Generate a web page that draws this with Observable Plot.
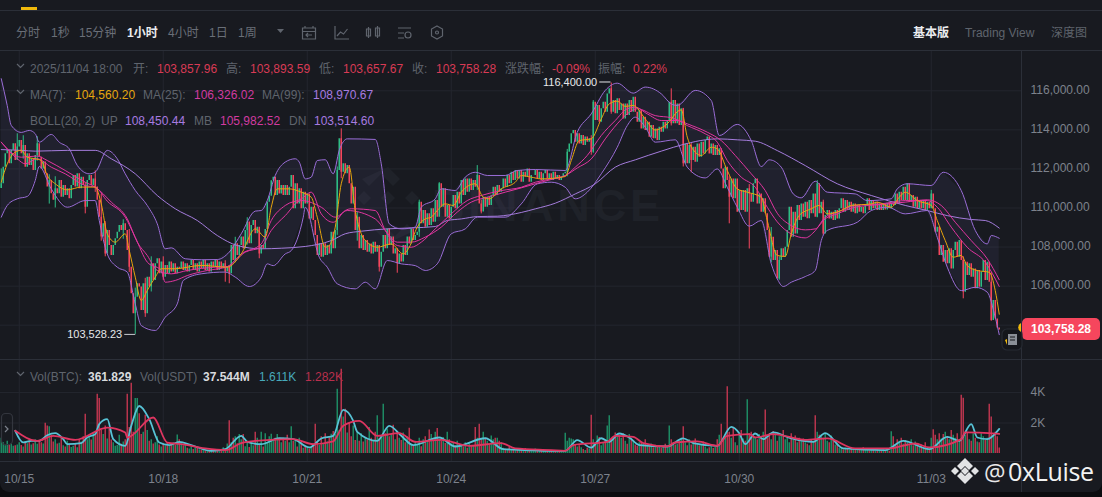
<!DOCTYPE html>
<html><head><meta charset="utf-8">
<script src="https://cdn.jsdelivr.net/npm/d3@7"></script>
<script src="https://cdn.jsdelivr.net/npm/@observablehq/plot@0.6"></script>
<style>
html,body{margin:0;padding:0;background:#0b0c0f;overflow:hidden}
#page{position:relative;width:1102px;height:497px;overflow:hidden;font-family:"Liberation Sans","Noto Sans CJK SC",sans-serif;font-size:12px}
#panel{position:absolute;left:0;top:0;width:1102px;height:492px;background:#181a20;border-radius:0 0 9px 9px}
.t{position:absolute;white-space:nowrap;line-height:16px}
.ln{position:absolute;background:#2b2f38}
.abs{position:absolute;left:0}
svg{display:block}
</style></head><body><div id="page"><div id="panel"></div></div>
<script>
// ---------- hourly closes, 500 candles, rows of ten ----------
const closes = [
111240,112090,112780,112950,112260,112950,113290,112430,113120,113460,
112780,113200,112090,112780,112180,112520,111920,112690,113290,112600,
112000,112350,111750,111070,111410,110730,110390,110980,110730,111410,
110550,111150,110640,110980,110470,111150,111660,111070,111750,110980,
111580,111150,110040,111410,111660,111150,111490,111070,110390,109530,
108510,109190,107650,108850,108080,107570,108080,108420,108760,109100,
108850,109190,108850,107820,106970,105610,104580,105430,106120,105950,
104750,106120,104580,106460,105950,107140,106290,107140,107400,106630,
107230,106460,107050,106630,107230,106720,107140,106630,106970,106890,
107230,106800,107140,106720,107060,107310,106800,107140,106720,107230,
106890,107310,106800,107140,106720,107230,106970,107310,106800,107230,
106890,107140,106720,106970,106630,108080,107310,108170,107570,108080,
108510,107910,108850,109280,108170,109100,109360,108680,109020,107650,
108080,107900,108900,110300,110600,111400,111580,110640,111410,110720,
111150,110640,111150,110640,111060,111660,109960,111240,110210,110980,
109960,110810,110210,110720,109440,110040,109360,108590,107570,108170,
107480,108170,107570,108080,107650,108760,107910,108850,111920,113540,
111835,112260,111750,112170,111240,110210,111060,108850,109530,107910,
108590,107820,108340,107740,108160,107650,108250,107740,108080,106970,
107740,108590,107910,108930,108080,108510,107650,107910,107140,107650,
107230,108080,107570,108510,108160,108930,108340,108590,108760,110300,
109190,109870,109020,109700,109100,109960,109270,110380,109530,111240,
110040,110980,109530,110130,109440,110040,110640,109960,110810,110210,
111410,110640,111490,110810,111490,110890,111410,111060,111660,110210,
109790,110550,110040,110550,110130,110640,111060,110640,111150,110810,
110980,111490,111060,111660,111240,111835,111410,111920,111490,111920,
111320,111835,111580,112000,111320,111660,111660,111920,111490,111830,
111410,111750,111920,111490,111750,111410,111830,111490,111660,111410,
111580,111750,111830,112860,113280,113800,113970,113370,113800,113280,
113710,113200,113630,113370,113540,112860,115420,114480,115250,114390,
115080,115420,114900,115840,116100,114900,115500,114820,115590,114990,
115330,114560,115330,114730,115500,114900,115670,114900,114390,114990,
114050,114650,113970,114390,113625,114220,113540,114050,113450,114140,
113880,114390,114050,114480,115420,114310,115500,114310,115330,114220,
115080,112260,113280,112260,113200,112430,113110,112340,113280,112600,
113370,112770,113450,113630,112770,113280,112690,113200,112690,113030,
112000,110980,112090,111410,110550,111490,110470,111490,109780,110890,
109870,110890,109780,110980,110720,110300,111240,111490,110210,110720,
109780,110470,109700,108850,107480,108500,107310,107820,106370,107310,
107910,107480,107990,108850,110040,108500,109785,108670,110130,109360,
110210,109530,110300,109450,110380,109700,110720,109530,111240,109700,
110300,108670,109610,109870,109440,109785,109360,109870,109440,109960,
110470,109785,110380,109870,110300,109785,110210,109700,110130,109785,
110040,109700,110130,110470,109870,110380,109960,110300,109870,110210,
109870,110210,109900,110240,109960,110210,110130,110720,110210,110810,
110380,111065,110380,111240,110300,110640,110040,110550,109960,110380,
109960,110380,109870,110300,109960,110720,109960,108760,109020,107570,
108080,107220,107820,107140,107910,106880,107820,108250,107480,108330,
107310,105690,107225,106540,107140,106460,106880,105860,106800,105940,
106710,107310,106290,107225,106200,104240,105260,104320,103860,103758];

const volumes = [
1000,700,500,800,550,620,480,500,560,700,
520,430,750,640,820,560,640,900,600,820,
700,620,1990,1800,1750,1200,760,900,620,680,
980,500,420,800,560,400,480,620,380,900,
760,1100,2580,900,1050,880,1350,1200,3890,3600,
1500,1250,1800,950,1600,880,700,480,520,1200,
600,750,900,3890,1700,4610,1400,3600,3600,2600,
1250,1400,2500,1500,800,900,620,700,1100,550,
420,600,510,700,480,620,700,550,1220,900,
640,500,620,350,300,420,260,320,380,250,
210,260,180,200,160,230,150,180,140,210,
170,380,240,620,2140,700,1000,1100,640,1250,
900,1240,450,800,400,700,500,1400,1000,520,
1400,420,1300,720,1100,1260,800,1000,1250,900,
700,1000,800,1200,700,1750,800,900,420,1000,
700,340,480,360,300,420,620,1920,800,540,
1100,650,1300,760,1040,1270,1450,1250,4220,1500,
5530,2400,2900,1350,2000,1100,1800,850,1400,800,
1300,750,1050,900,1700,1000,800,1400,2470,1000,
1100,3235,1300,1600,1100,1250,1850,900,1400,1000,
850,1350,700,1100,1650,600,460,800,520,1000,
450,900,1100,800,1540,1250,800,1400,1640,900,
800,1050,650,1400,900,620,700,500,800,400,
560,450,700,350,620,500,520,1700,1000,1920,
900,1400,1000,800,600,1150,900,1000,1000,800,
700,350,280,240,400,260,200,180,300,220,
260,200,320,180,250,170,230,300,160,240,
150,220,130,180,160,140,190,130,170,150,
200,160,1330,800,1000,950,900,550,420,500,
380,260,200,350,300,2510,900,600,1150,1050,
500,700,850,1800,2470,900,1000,1350,1100,1200,
1000,1300,800,600,1250,900,800,550,480,700,
750,620,900,500,460,620,380,540,400,500,
350,420,600,380,1810,900,700,560,600,800,
1000,1750,700,500,900,550,800,950,650,500,
550,750,420,300,380,450,320,400,900,1200,
1920,850,1100,4370,1400,1000,1700,700,500,1200,
1500,950,800,3520,1300,1400,1100,1000,900,1250,
1100,1400,2860,1000,1300,900,1450,1350,800,1100,
1200,1500,900,1000,700,1300,850,1150,700,1000,
800,950,700,600,500,900,800,2470,1400,1200,
1100,1000,1300,800,700,1150,900,550,600,350,
300,250,350,280,200,300,260,220,280,200,
240,380,200,260,180,240,200,170,260,190,
220,250,180,200,150,1420,1100,550,900,800,
1000,600,850,700,550,900,500,750,650,400,
550,300,700,350,280,1000,1550,1200,900,1300,
950,1250,1400,1100,900,1500,1200,1000,1300,850,
3825,3630,1200,1400,900,800,1300,1000,750,700,
1300,1100,850,1000,3235,2400,1200,1400,1100,362];

// ---------- long wicks: candle index, high, low ----------
const wicks = [[0,112000,111000],[8,113800,112700],[11,113700,112500],[18,113650,112400],[24,111700,110200],[27,111600,110000],
[42,111300,109700],[47,111900,110800],[50,110700,108300],[52,109300,107500],[61,109400,108400],[64,108900,106700],[67,105900,103528],
[72,106400,104400],[75,107500,105700],[81,107500,106300],[112,107300,106200],[114,107000,106120],[117,108500,107200],[123,109500,108100],
[129,108900,107400],[168,112100,108600],[170,114050,111500],[178,109800,108300],[189,108000,106720],[198,107700,106660],[209,110400,108500],
[219,111300,110000],[238,112170,110900],[240,110400,109700],[283,113000,111600],[295,113700,112700],[296,115500,112800],[305,116400,114800],
[335,116100,114200],[341,115100,112100],[345,113300,111800],[364,111600,109190],[374,111200,107900],[385,109000,107200],[389,107500,106300],
[408,111400,109500],[411,110400,108600],[465,110900,110000],[481,107500,105350],[495,106700,104200]];

// ---------- indicator lines: [candle index, value] ----------
const ma7 = [[0,111320],[3,112260],[7,112860],[10,112950],[13,112600],[17,112520],[20,112430],[23,111660],[27,111240],[33,110930],[40,111070],[47,111070],[50,110210],[53,108680],[57,108250],[62,108680],[64,107830],[67,106460],[70,105260],[73,105780],[77,106460],[80,106890],[87,106890],[100,107060],[113,106970],[120,107650],[127,108930],[132,108510],[135,110040],[138,110980],[144,110980],[150,110810],[155,110550],[158,109530],[162,107990],[164,108080],[167,109020],[170,111240],[174,112090],[177,109870],[180,108680],[183,108250],[188,107990],[195,108160],[201,107650],[204,107990],[208,109020],[212,109440],[215,109530],[218,109870],[222,110210],[226,110130],[230,110810],[237,111240],[241,110550],[244,110470],[250,110980],[257,111320],[260,111660],[265,111580],[270,111490],[282,111610],[285,112430],[289,113450],[295,113540],[300,114560],[304,115330],[308,115470],[312,115200],[316,115250],[322,114560],[327,113990],[332,114220],[340,115025],[343,113630],[347,112860],[350,112690],[355,113110],[358,113030],[363,111920],[368,110980],[373,110810],[380,110550],[383,109360],[388,107570],[392,107520],[395,108670],[399,109620],[405,109960],[409,110130],[413,109700],[420,109870],[425,110130],[435,110210],[438,110300],[445,110040],[449,110550],[452,110810],[458,110380],[465,110130],[468,109360],[472,108330],[476,107480],[480,107570],[483,107050],[488,106800],[494,106710],[497,105770],[499,104560]];
const ma25 = [[0,113370],[10,112600],[18,112660],[23,112430],[32,111920],[42,111320],[47,111070],[55,110300],[63,109450],[68,108250],[73,107570],[78,106800],[85,106630],[93,106800],[107,106970],[113,107000],[122,107740],[130,108000],[135,108850],[142,109610],[150,110380],[160,110040],[167,109530],[173,109870],[187,109440],[192,108850],[198,108250],[205,108250],[212,108510],[220,109020],[228,109790],[235,110300],[243,110550],[252,110810],[260,111030],[267,111240],[275,111460],[282,111660],[288,112050],[295,112510],[302,113540],[308,114310],[313,114820],[318,115080],[327,114730],[335,114620],[343,114310],[353,113880],[360,113450],[367,112690],[375,111750],[382,110890],[388,109730],[395,109100],[402,108880],[407,108930],[412,109450],[418,109700],[427,110040],[440,110180],[452,110300],[463,110420],[470,110130],[477,109270],[485,108330],[493,107400],[499,106326]];
const ma99 = [[0,112990],[10,112950],[17,112910],[33,112950],[47,112950],[55,112520],[67,111750],[78,110640],[87,109960],[98,109360],[108,108590],[118,108080],[130,107910],[140,107940],[152,108030],[158,108130],[165,108330],[172,108680],[180,108810],[193,108930],[205,108980],[217,109050],[223,109360],[230,109440],[238,109560],[248,109580],[260,109770],[267,109955],[277,110245],[287,110720],[297,111240],[307,112090],[317,112465],[330,112910],[342,113280],[352,113490],[358,113540],[368,113490],[377,113420],[388,112940],[402,112170],[418,111240],[435,110640],[452,110130],[463,109870],[473,109610],[485,109410],[492,109360],[499,108970]];
const bollMid = [[0,113370],[8,112520],[12,112260],[18,112520],[25,112090],[32,111750],[42,111150],[47,111070],[53,110350],[62,109530],[67,108500],[73,107230],[80,106800],[82,106200],[87,106290],[93,106540],[103,106800],[113,107000],[120,107650],[130,108160],[135,109360],[142,110130],[150,110465],[155,110810],[160,109700],[166,109270],[172,109870],[175,109960],[187,109870],[192,108850],[198,108080],[205,107990],[210,108250],[217,108930],[225,109700],[233,110380],[240,110640],[250,110890],[260,111060],[267,111320],[275,111490],[282,111660],[287,112090],[293,112690],[300,113710],[307,114480],[313,115080],[317,115160],[323,114820],[330,114480],[338,114480],[343,114220],[352,113800],[358,113370],[363,112430],[370,111580],[377,111065],[383,110040],[388,109290],[395,108670],[402,108470],[407,108840],[412,109530],[418,109785],[427,110130],[440,110210],[452,110380],[463,110380],[468,110040],[475,109020],[483,107990],[492,107225],[499,105982]];
const bollUp = [[0,116620],[3,115240],[5,114230],[10,113870],[14,113970],[17,113800],[19,113370],[25,113765],[29,113370],[34,113030],[38,112180],[44,111750],[47,111840],[53,112950],[58,112520],[62,111750],[67,110900],[73,110130],[78,109190],[82,107910],[85,107960],[92,107400],[100,107350],[108,107360],[114,107740],[120,108680],[127,109840],[130,109870],[133,110380],[137,111665],[142,112350],[147,112520],[149,112350],[152,111490],[155,111580],[158,112430],[162,112470],[166,111750],[169,112950],[173,113540],[187,113510],[190,112260],[194,109190],[200,108930],[207,109020],[210,110040],[217,110470],[220,110980],[227,110895],[232,111580],[237,111830],[243,111665],[252,111665],[258,111920],[267,111970],[282,111920],[288,113880],[295,114820],[302,116020],[308,116390],[316,115880],[322,116190],[330,115845],[335,115330],[338,115250],[347,116020],[355,115500],[359,113710],[368,114280],[375,113450],[380,112120],[384,112465],[390,112090],[396,110720],[400,110520],[407,111370],[413,110810],[427,110720],[433,110380],[445,110470],[448,110980],[453,111240],[465,111150],[471,111830],[480,110890],[487,108850],[493,108160],[495,108590],[499,108450]];
const bollDn = [[0,109530],[3,110130],[8,110470],[13,110590],[17,111410],[19,112130],[25,110980],[33,110040],[42,110380],[47,110380],[49,109360],[53,107650],[58,106970],[63,106720],[67,105090],[70,103980],[77,103730],[82,104410],[88,105090],[91,106290],[100,106630],[112,106720],[117,106460],[124,105980],[130,106460],[133,107140],[136,107050],[142,107650],[145,107820],[151,109530],[152,110040],[159,107480],[163,106970],[168,106120],[177,105860],[182,106200],[187,105860],[193,107310],[200,107140],[207,107050],[212,106800],[218,107140],[225,108680],[232,108930],[238,109530],[252,109530],[260,110210],[268,111235],[275,111320],[282,111060],[287,110470],[293,110810],[300,111750],[308,113110],[313,114220],[317,114650],[322,114140],[327,113370],[337,113490],[343,112090],[352,111540],[358,112000],[363,111060],[368,110040],[374,109070],[380,109360],[385,107140],[388,106370],[391,105980],[395,106200],[402,106490],[407,106800],[410,108330],[413,108850],[428,109270],[435,109870],[443,110040],[452,109700],[463,109870],[468,108500],[473,106970],[480,105770],[487,105940],[493,105690],[497,104410],[499,103515]];
const volFast = [[7,1490],[11,725],[15,830],[19,830],[23,1200],[27,1330],[31,940],[33,610],[40,680],[43,1050],[47,1270],[49,1930],[53,2250],[56,940],[62,500],[65,1810],[69,3115],[74,2250],[79,720],[84,550],[89,765],[95,550],[105,175],[112,285],[120,1160],[123,765],[130,610],[139,1000],[146,940],[154,395],[160,985],[166,1160],[171,2860],[176,2140],[178,1420],[188,830],[194,1810],[200,1160],[206,550],[219,1050],[227,460],[242,1000],[251,285],[262,230],[275,175],[282,175],[288,875],[295,390],[300,1000],[304,765],[309,1310],[314,1050],[319,550],[333,460],[341,985],[346,680],[358,500],[365,1750],[369,1330],[372,610],[377,1310],[381,940],[386,1380],[395,985],[406,765],[412,1330],[421,330],[442,220],[451,830],[464,285],[473,1090],[479,830],[485,1925],[488,1050],[493,940],[499,1611]];
const volSlow = [[7,1490],[18,830],[26,1160],[37,895],[53,1700],[62,1380],[63,1050],[76,2360],[83,720],[90,610],[102,330],[112,220],[120,680],[127,830],[146,940],[156,610],[166,790],[171,1820],[179,2140],[188,1160],[199,1330],[207,765],[220,895],[234,500],[250,680],[257,330],[275,220],[282,175],[286,550],[303,765],[307,1160],[316,1090],[321,680],[333,460],[337,720],[348,790],[358,500],[363,1160],[374,1270],[377,1050],[386,1270],[402,895],[413,985],[427,330],[444,330],[457,655],[464,395],[480,940],[482,1380],[499,1282]];

// ---------- ticks ----------
const priceGrid = [116000,114000,112000,110000,108000,106000,104000];
const priceTicks = [116000,114000,112000,110000,108000,106000];
const volTicks = [2000,4000];
const dateTicks = ["2025-10-15","2025-10-18","2025-10-21","2025-10-24","2025-10-27","2025-10-30","2025-11-03"].map(d=>new Date(d+"T00:00:00Z"));

// ---------- time mapping ----------
const START = Date.UTC(2025,9,14,15), HOUR = 3600000;
const T = i => new Date(START + i*HOUR);
const xDomain = [T(-0.375), T(510.125)];
const candles = closes.map((c,i)=>({t:T(i), open:i?closes[i-1]:111000, close:c, vol:volumes[i]}));
candles[499].open = 103857.96;
const up = candles.filter(d=>d.close>=d.open), down = candles.filter(d=>d.close<d.open);
const GREEN="#2ebd85", RED="#f6465d", GRID="#23262e", AXIS="#7d828c";
const GV="#1d8a63", RV="#b8344d";

// band fill between the two Bollinger lines
const piece = a => d3.scaleLinear(a.map(d=>d[0]), a.map(d=>d[1]));
const upS = piece(bollUp), dnS = piece(bollDn);
const bandFill = d3.range(0,500).map(i=>({t:T(i), a:upS(i), b:dnS(i)}));

const lineOf = (a,stroke,w=1) => Plot.line(a,{x:d=>T(d[0]),y:d=>d[1],stroke,strokeWidth:w,curve:"monotone-x"});

// ---------- price pane ----------
const price = Plot.plot({
  width:1102,height:308,marginTop:0,marginBottom:0,marginLeft:0,marginRight:81,
  style:{background:"transparent",fontFamily:'"Liberation Sans",sans-serif',fontSize:"12px"},
  x:{type:"utc",domain:xDomain,axis:null},
  y:{domain:[102243,118012],range:[308,0],label:null},
  marks:[
    Plot.ruleY(priceGrid,{stroke:GRID}),
    Plot.ruleX(dateTicks,{stroke:GRID}),
    Plot.axisY(priceTicks,{anchor:"right",tickSize:0,tickPadding:9,dy:-1,label:null,tickFormat:d3.format(",.2f"),fill:AXIS,fontSize:12}),
    Plot.areaY(bandFill,{x:"t",y1:"b",y2:"a",fill:"#7a70c0",fillOpacity:0.09,curve:"linear"}),
    Plot.ruleX(wicks.filter(w=>closes[w[0]]>=(w[0]?closes[w[0]-1]:0)),{x:d=>T(d[0]),y1:d=>d[1],y2:d=>d[2],stroke:GREEN,strokeWidth:1}),
    Plot.ruleX(wicks.filter(w=>closes[w[0]]<(w[0]?closes[w[0]-1]:0)),{x:d=>T(d[0]),y1:d=>d[1],y2:d=>d[2],stroke:RED,strokeWidth:1}),
    Plot.ruleX(up,{x:"t",y1:"open",y2:"close",stroke:GREEN,strokeWidth:1.5}),
    Plot.ruleX(down,{x:"t",y1:"open",y2:"close",stroke:RED,strokeWidth:1.5}),
    lineOf(ma99,"#a47cdc",1),
    lineOf(bollUp,"#9a6dd7",1),
    lineOf(bollDn,"#9a6dd7",1),
    lineOf(ma25,"#e0359f",1),
    lineOf(bollMid,"#e0359f",1),
    lineOf(ma7,"#e8a50c",1),
    Plot.link([{a:T(299),b:T(304.6),y:116400}],{x1:"a",x2:"b",y1:"y",y2:"y",dy:-1,stroke:"#e6e8ea",strokeWidth:1}),
    Plot.text([{x:T(299),y:116400,s:"116,400.00"}],{x:"x",y:"y",text:"s",textAnchor:"end",dx:-2,dy:-1,fill:"#e6e8ea",fontSize:11}),
    Plot.link([{a:T(61.5),b:T(67),y:103528.23}],{x1:"a",x2:"b",y1:"y",y2:"y",stroke:"#c9ccd1",strokeWidth:1}),
    Plot.text([{x:T(61.5),y:103528.23,s:"103,528.23"}],{x:"x",y:"y",text:"s",textAnchor:"end",dx:-2,fill:"#e6e8ea",fontSize:11})
  ]
});

// ---------- volume pane ----------
const volume = Plot.plot({
  width:1102,height:138,marginTop:0,marginBottom:36,marginLeft:0,marginRight:81,
  style:{background:"transparent",fontFamily:'"Liberation Sans",sans-serif',fontSize:"12px"},
  x:{type:"utc",domain:xDomain},
  y:{domain:[-525,6164],label:null},
  marks:[
    Plot.ruleY(volTicks,{stroke:GRID}),
    Plot.ruleX(dateTicks,{stroke:GRID}),
    Plot.axisY(volTicks,{anchor:"right",tickSize:0,tickPadding:9,label:null,tickFormat:d=>d/1000+"K",fill:AXIS,fontSize:12}),
    Plot.axisX(dateTicks,{anchor:"bottom",tickSize:0,tickPadding:13,label:null,tickFormat:d3.utcFormat("%m/%d"),fill:AXIS,fontSize:12}),
    Plot.ruleX(up,{x:"t",y1:0,y2:"vol",stroke:GV,strokeWidth:1.5}),
    Plot.ruleX(down,{x:"t",y1:0,y2:"vol",stroke:RV,strokeWidth:1.5}),
    lineOf(volFast,"#57c3d6",1.8),
    lineOf(volSlow,"#df3560",1.8)
  ]
});

// ---------- page furniture ----------
const page = document.getElementById("page");
const wm = document.createElement("div");
wm.className="abs"; wm.style.cssText="top:0;left:0";
wm.innerHTML='<svg width="1102" height="497" style="position:absolute;left:0;top:0"><g fill="#1f2229"><path d="M388 167l12 12-7 7-12-12-12 12-7-7z"/><path d="M388 243l-12-12 7-7 12 12 12-12 7 7z"/><path d="M357 198l7-7 7 7-7 7zM405 198l7-7 7 7-7 7zM381 198l7-7 7 7-7 7z"/></g><text x="432" y="221" font-family="Liberation Sans" font-weight="700" font-size="45" fill="#1f2229" textLength="228">BINANCE</text></svg>';
page.appendChild(wm);
const p1 = document.createElement("div"); p1.className="abs"; p1.style.top="51px"; p1.appendChild(price); page.appendChild(p1);
const p2 = document.createElement("div"); p2.className="abs"; p2.style.top="359px"; p2.appendChild(volume); page.appendChild(p2);

const rect=(x,y,w,h,c)=>{const d=document.createElement("div");d.className="ln";d.style.cssText=`left:${x}px;top:${y}px;width:${w}px;height:${h}px;${c?"background:"+c:""}`;page.appendChild(d);return d;};
rect(0,10,1102,1); rect(0,50,1102,1); rect(0,359,1102,1); rect(0,461,1021,1); rect(1021,51,1,441);
rect(21,7,16,3,"#f0b90b");

const put=(s,x,y,c,o={})=>{const d=document.createElement("div");d.className="t";d.textContent=s;
  d.style.cssText=`left:${x}px;top:${y-7}px;color:${c};font-size:${o.size||12}px;${o.bold?"font-weight:700;":""}${o.extra||""}`;page.appendChild(d);};
const G="#5f646d", R="#d93a55", P="#a77be0", K="#d13ba0";
[["分时",16],["1秒",51],["15分钟",79],["4小时",168],["1日",209],["1周",238]].forEach(a=>put(a[0],a[1],32,"#6a6f78"));
put("1小时",127,32,"#eaecef",{bold:true});
put("基本版",913,32,"#eaecef",{bold:true});
put("Trading View",965,32,"#5f646d");
put("深度图",1051,32,"#5f646d");
[["2025/11/04 18:00",30,G],["开:",133,G],["103,857.96",157,R],["高:",226,G],["103,893.59",250,R],["低:",319,G],["103,657.67",343,R],["收:",412,G],["103,758.28",436,R],["涨跌幅:",505,G],["-0.09%",552,R],["振幅:",598,G],["0.22%",633,R]].forEach(a=>put(a[0],a[1],68,a[2]));
[["MA(7):",30,G],["104,560.20",75,"#e5a70f"],["MA(25):",143,G],["106,326.02",194,K],["MA(99):",262,G],["108,970.67",313,P]].forEach(a=>put(a[0],a[1],94,a[2]));
[["BOLL(20, 2)",30,G],["UP",101,G],["108,450.44",125,P],["MB",194,G],["105,982.52",220,K],["DN",289,G],["103,514.60",314,P]].forEach(a=>put(a[0],a[1],120,a[2]));
put("Vol(BTC):",30,376,G); put("361.829",88,376,"#d9dbde",{bold:true});
put("Vol(USDT)",140,376,G); put("37.544M",203,376,"#d9dbde",{bold:true});
put("1.611K",259,376,"#47a9bb"); put("1.282K",305,376,"#b92f4c");

// last price tag
const tag=document.createElement("div");tag.className="t";tag.textContent="103,758.28";
tag.style.cssText="left:1022px;top:318px;width:78px;height:22px;line-height:22px;text-align:center;background:#f6465d;border-radius:5px;color:#fff;font-size:12px;font-weight:700;";page.appendChild(tag);

// icons and decorations
const ic=document.createElement("div");ic.className="abs";ic.style.cssText="top:0;left:0;pointer-events:none";
ic.innerHTML=`<svg width="1102" height="497" style="position:absolute;left:0;top:0">
<g fill="none" stroke="#5f646d" stroke-width="1.2">
<path d="M277 29h7l-3.500 4z" fill="#5f646d" stroke="none"/>
<path d="M302.500 28h13v11h-13zM302.500 31.500h13M305 26v2M313 26v2M312 35h-6m2-2l-2 2 2 2"/>
<path d="M335 26v13h14M337 36l3.500-4 3 2 4-5"/>
<path d="M366.500 29h4v7h-4zM368.500 27v11M375.500 28h4v8h-4zM377.500 26v12"/>
<path d="M398 28h13M398 33h6M398 38h6"/><circle cx="408" cy="35" r="3"/>
<path d="M437 26l5.500 3v7l-5.500 3-5.500-3v-7z"/><circle cx="437" cy="32.500" r="1.500"/>
<path d="M17 64l3.500 3.500L24 64M17 90l3.500 3.500L24 90M17 372l3.500 3.500L24 372"/>
<rect x="1.500" y="413.500" width="11" height="31" rx="4" stroke="#33363e"/>
<path d="M5 426l3 3-3 3" stroke="#7d828c"/>
<rect x="1002" y="329" width="20" height="21" rx="5" stroke="#262a32" fill="#14161b"/>
</g>
<rect x="1008" y="334" width="9" height="11" fill="#8b9097"/><path d="M1010 337h5M1010 340h5" stroke="#14161b"/>
<path d="M1005 340l2-1v6z" fill="#f0b90b"/>
<path d="M1021 323a5 5 0 0 0 0 9z" fill="#f0b90b"/>
<g fill="#e2e3e5"><path d="M965 458l8 8-4 4-4-4-4 4-4-4zM965 484l-8-8 4-4 4 4 4-4 4 4zM951 471l4-4 4 4-4 4zM971 471l4-4 4 4-4 4zM961 471l4-4 4 4-4 4z"/></g>
<text x="984" y="481" font-family="Open Sans" font-size="24" fill="#e8e8e8">@</text>
<text x="1008" y="481" font-family="Open Sans" font-size="25" fill="#f2f2f2" textLength="86">0xLuise</text>
</svg>`;
page.appendChild(ic);
</script></body></html>
